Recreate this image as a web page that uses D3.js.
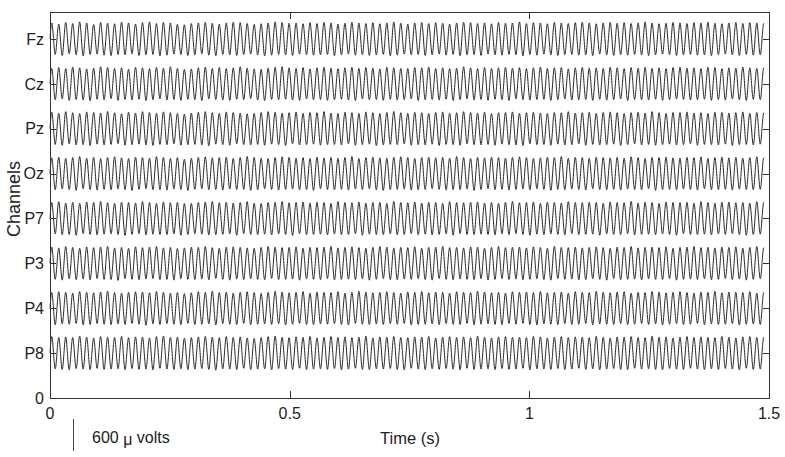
<!DOCTYPE html>
<html>
<head>
<meta charset="utf-8">
<script src="https://cdn.jsdelivr.net/npm/d3@7/dist/d3.min.js"></script>
<style>
  html, body { margin: 0; padding: 0; background: #fff; }
  svg { display: block; }
  text { font-family: "Liberation Sans", Arial, sans-serif; fill: #222; }
</style>
</head>
<body>
<svg id="chart" width="785" height="457"></svg>
<script>
// ---------- data (microvolts) ----------
const channelNames = ["Fz", "Cz", "Pz", "Oz", "P7", "P3", "P4", "P8"];
const yTickLabels = ["0", "P8", "P4", "P3", "P7", "Oz", "Pz", "Cz", "Fz"];
const xTickValues = [0, 0.5, 1, 1.5];
const xTickLabels = ["0", "0.5", "1", "1.5"];
const durationSec = 1.5;
const channelSpacingUV = 842;   // offset between stacked channels, in µV
const scaleBarUV = 600;

const fzPeaks = [300,280,310,290,320,300,270,310,295,285,315,300,280,
305,320,290,310,300,275,265,290,300,310,295,280,300,
315,305,290,270,285,300,320,310,295,300,285,305,290,
310,300,280,295,315,300,290,305,285,300,320,295,280,
300,310,290,305,295,280,300,315,305,290,300,285,310,
295,300,320,290,305,300,285,310,300,290,305,315,300,
285,300,310,295,305,290,300,320,300,285,295,310,300,
290,305,300,315,295,285,300,310,290,305,300,295,310];
const fzTroughs = [-290,-310,-280,-300,-320,-295,-285,-305,-315,-290,-300,-280,-310,
-300,-290,-320,-305,-285,-295,-310,-300,-280,-305,-315,-290,-300,
-310,-295,-285,-300,-320,-305,-290,-300,-310,-285,-295,-305,-300,
-290,-315,-300,-285,-305,-295,-310,-300,-290,-320,-305,-285,-300,
-295,-310,-300,-285,-305,-290,-315,-300,-295,-310,-285,-300,-305,
-290,-300,-320,-295,-305,-285,-300,-310,-295,-290,-305,-300,-315,
-285,-300,-310,-295,-305,-290,-300,-315,-300,-285,-295,-310,-300,
-290,-305,-300,-315,-295,-285,-300,-310,-290,-305,-300];

const czPeaks = [290,305,285,315,300,280,295,320,305,290,300,275,310,
300,285,310,295,320,290,270,280,300,315,290,305,285,
300,320,295,280,275,295,310,320,300,290,305,280,300,
315,295,285,300,310,290,305,295,280,310,300,290,285,
305,300,315,290,300,285,295,320,300,285,305,290,300,
310,295,305,285,300,315,290,300,305,280,300,310,295,
300,290,315,300,285,305,295,310,290,300,285,305,315,
295,300,290,310,305,285,300,295,315,300,290,305,300];
const czTroughs = [-300,-285,-310,-295,-305,-320,-290,-300,-280,-310,-295,-305,-290,
-315,-300,-285,-305,-295,-310,-290,-300,-315,-285,-295,-305,-310,
-290,-300,-280,-305,-315,-295,-300,-290,-305,-310,-285,-300,-295,
-310,-300,-290,-305,-315,-285,-300,-295,-310,-290,-305,-300,-285,
-315,-300,-295,-305,-290,-310,-300,-285,-305,-295,-310,-290,-300,
-315,-285,-300,-305,-295,-290,-310,-300,-285,-305,-300,-295,-310,
-290,-305,-300,-285,-315,-295,-300,-305,-290,-310,-300,-285,-295,
-305,-300,-290,-310,-295,-305,-285,-300,-315,-290,-300];

const pzPeaks = [310,290,320,300,285,315,305,295,325,300,280,310,295,
320,305,290,315,300,285,275,295,310,320,300,290,315,
305,295,280,290,305,320,310,295,300,315,290,305,300,
320,295,285,310,300,290,315,300,285,305,325,300,290,
310,300,285,305,315,290,300,320,305,295,310,285,300,
305,315,290,300,310,295,285,305,300,320,295,300,310,
290,305,315,300,285,300,310,295,320,300,290,305,300,
315,295,300,285,310,305,295,300,315,290,305,300,310];
const pzTroughs = [-295,-310,-285,-305,-300,-315,-290,-305,-295,-280,-310,-300,-290,
-305,-315,-295,-300,-285,-310,-300,-295,-305,-320,-290,-300,-310,
-285,-300,-305,-295,-310,-290,-300,-315,-285,-305,-300,-290,-310,
-300,-295,-305,-285,-310,-300,-290,-315,-305,-295,-300,-285,-310,
-300,-305,-290,-315,-295,-300,-310,-285,-300,-305,-295,-310,-290,
-300,-305,-315,-285,-300,-295,-310,-290,-305,-300,-285,-310,-295,
-305,-300,-290,-315,-300,-285,-305,-295,-310,-300,-290,-305,-300,
-285,-310,-295,-300,-305,-290,-315,-300,-295,-305,-290];

const ozPeaks = [295,310,285,300,320,290,305,280,300,315,295,285,310,
300,290,320,305,285,300,270,290,305,315,295,300,310,
285,300,320,305,290,280,300,315,305,290,300,285,310,
295,305,290,300,320,285,300,310,295,290,305,315,300,
285,300,310,295,305,290,320,300,285,305,295,310,300,
290,305,315,300,285,295,310,300,320,290,305,300,285,
310,300,295,305,290,315,300,285,305,300,310,295,290,
305,300,315,285,300,310,295,305,290,300,315,300,295];
const ozTroughs = [-305,-290,-300,-315,-285,-300,-310,-295,-305,-290,-300,-320,-295,
-285,-305,-300,-310,-290,-300,-315,-295,-285,-305,-300,-310,-290,
-300,-295,-315,-305,-285,-300,-310,-295,-290,-305,-300,-315,-285,
-300,-305,-295,-310,-290,-300,-285,-305,-315,-300,-295,-290,-310,
-305,-300,-285,-295,-310,-300,-305,-290,-315,-300,-285,-305,-295,
-310,-300,-290,-305,-285,-300,-315,-295,-305,-290,-300,-310,-285,
-300,-305,-295,-310,-290,-300,-305,-285,-315,-300,-295,-305,-290,
-300,-310,-285,-305,-300,-295,-310,-290,-300,-305,-295];

const p7Peaks = [300,315,290,305,285,310,300,320,295,285,305,300,290,
315,300,285,310,295,300,280,285,300,310,320,295,305,
290,300,315,285,280,300,305,320,295,300,310,290,305,
300,285,315,300,295,310,290,300,305,285,320,300,295,
310,290,305,300,285,315,300,295,305,310,290,300,285,
305,320,295,300,310,285,305,300,290,315,300,295,305,
300,285,310,300,295,320,290,305,300,285,310,300,295,
305,290,315,300,285,305,310,295,300,290,315,305,300];
const p7Troughs = [-290,-305,-300,-315,-285,-300,-310,-295,-290,-305,-320,-300,-285,
-310,-295,-300,-305,-290,-315,-300,-285,-295,-310,-305,-300,-290,
-315,-285,-300,-305,-295,-310,-290,-300,-320,-285,-305,-300,-295,
-310,-290,-305,-300,-285,-315,-295,-300,-305,-290,-310,-300,-285,
-305,-295,-310,-300,-290,-315,-285,-300,-305,-295,-300,-310,-290,
-305,-285,-300,-315,-295,-305,-290,-300,-310,-285,-305,-300,-295,
-315,-290,-300,-305,-285,-310,-300,-295,-305,-290,-300,-315,-285,
-300,-305,-295,-310,-290,-300,-285,-305,-315,-300,-295];

const p3Peaks = [305,290,315,300,285,310,295,305,320,290,300,285,310,
295,305,315,290,300,280,290,305,300,315,295,285,305,
310,300,290,285,300,315,305,295,300,310,285,300,295,
305,320,290,300,310,295,285,300,315,305,290,300,295,
310,285,300,305,320,295,300,290,310,305,285,300,315,
295,300,305,290,310,300,285,320,300,295,305,290,300,
310,295,285,305,300,315,290,300,305,295,310,285,300,
305,315,295,300,290,305,300,310,285,300,315,295,305];
const p3Troughs = [-300,-315,-290,-305,-295,-310,-285,-300,-305,-320,-290,-300,-310,
-295,-285,-305,-300,-315,-290,-300,-305,-295,-310,-285,-300,-315,
-295,-305,-290,-300,-310,-285,-305,-300,-295,-315,-290,-300,-305,
-285,-310,-300,-295,-305,-290,-315,-300,-285,-305,-310,-295,-300,
-290,-305,-315,-285,-300,-310,-295,-300,-305,-290,-315,-300,-285,
-305,-295,-310,-300,-290,-305,-315,-285,-300,-295,-310,-305,-290,
-300,-315,-285,-305,-300,-295,-310,-290,-300,-305,-285,-315,-300,
-295,-305,-290,-310,-300,-285,-305,-295,-315,-300,-290];

const p4Peaks = [295,310,300,285,315,300,290,305,320,295,285,300,310,
305,290,315,300,285,295,275,290,310,300,320,295,305,
285,300,310,295,280,300,320,305,290,300,315,285,305,
300,295,310,285,300,320,305,290,300,310,295,285,305,
300,315,290,305,300,285,310,300,295,320,305,290,300,
285,310,300,305,295,315,290,300,305,285,310,300,295,
320,300,290,305,310,285,300,295,315,305,290,300,310,
295,285,305,300,315,290,305,300,295,310,285,300,305];
const p4Troughs = [-310,-295,-300,-285,-315,-305,-290,-300,-310,-295,-305,-285,-300,
-320,-295,-305,-290,-300,-310,-285,-305,-300,-295,-315,-290,-300,
-305,-285,-310,-300,-295,-305,-290,-315,-300,-285,-305,-310,-295,
-300,-290,-305,-315,-285,-300,-310,-295,-305,-290,-300,-285,-315,
-305,-300,-295,-310,-290,-300,-305,-285,-315,-300,-295,-305,-310,
-290,-300,-285,-305,-315,-295,-300,-310,-290,-305,-300,-285,-315,
-295,-300,-305,-290,-310,-300,-285,-305,-295,-315,-300,-290,-305,
-300,-285,-310,-295,-305,-300,-290,-315,-300,-295,-305];

const p8Peaks = [310,295,305,290,320,300,285,310,300,295,315,290,305,
300,285,310,320,295,300,280,290,305,315,300,290,310,
295,305,285,275,295,310,320,300,290,305,300,315,285,
300,310,295,305,290,300,320,285,305,300,310,295,290,
305,300,315,285,300,310,295,305,290,320,300,285,305,
310,295,300,290,315,305,285,300,310,295,305,300,290,
315,300,285,305,300,310,295,290,320,300,305,285,300,
310,295,305,300,290,315,300,285,305,310,295,300,305];
const p8Troughs = [-295,-305,-315,-290,-300,-310,-285,-305,-300,-295,-310,-290,-305,
-300,-315,-285,-300,-305,-295,-310,-300,-290,-305,-320,-295,-300,
-310,-285,-305,-300,-295,-315,-290,-300,-305,-285,-310,-300,-295,
-305,-290,-315,-300,-285,-305,-310,-295,-300,-290,-305,-315,-285,
-300,-310,-295,-305,-290,-300,-315,-285,-305,-300,-295,-310,-290,
-305,-300,-285,-315,-295,-300,-305,-290,-310,-300,-285,-305,-295,
-315,-300,-290,-305,-310,-285,-300,-295,-305,-315,-290,-300,-305,
-285,-300,-310,-295,-305,-290,-300,-315,-285,-305,-300];

const channelPeaks = [fzPeaks, czPeaks, pzPeaks, ozPeaks, p7Peaks, p3Peaks, p4Peaks, p8Peaks];
const channelTroughs = [fzTroughs, czTroughs, pzTroughs, ozTroughs, p7Troughs, p3Troughs, p4Troughs, p8Troughs];

// ---------- layout ----------
const svg = d3.select("#chart");
const plot = { left: 50, top: 12, right: 769, bottom: 398 };

const x = d3.scaleLinear().domain([0, durationSec]).range([plot.left, plot.right]);
const y = d3.scaleLinear().domain([0, 8.6]).range([plot.bottom, plot.top]);

// build each trace: start at baseline, alternate peak / trough, end at baseline
function traceSamples(peaks, troughs) {
  const ext = [];
  const n = peaks.length + troughs.length;
  for (let i = 0; i < n; i++) {
    ext.push(i % 2 === 0 ? peaks[i >> 1] : troughs[i >> 1]);
  }
  const half = durationSec / n;
  const pts = [[0, 0]];
  ext.forEach((v, i) => pts.push([(i + 0.5) * half, v]));
  pts.push([durationSec, 0]);
  return pts;
}

const line = d3.line().curve(d3.curveMonotoneX);

channelNames.forEach((name, ci) => {
  const level = channelNames.length - ci;     // Fz at top (8) ... P8 at 1
  const pts = traceSamples(channelPeaks[ci], channelTroughs[ci]);
  line.x(d => x(d[0])).y(d => y(level + d[1] / channelSpacingUV));
  svg.append("path")
    .attr("d", line(pts))
    .attr("fill", "none")
    .attr("stroke", "#2a2a2a")
    .attr("stroke-width", 1)
    .attr("stroke-linejoin", "round");
});

// ---------- box + axes ----------
const axisColor = "#333";
svg.append("rect")
  .attr("x", plot.left + 0.5).attr("y", plot.top + 0.5)
  .attr("width", plot.right - plot.left).attr("height", plot.bottom - plot.top)
  .attr("fill", "none").attr("stroke", axisColor).attr("stroke-width", 1);

const yLevels = d3.range(yTickLabels.length);
// left ticks (inward) and right ticks (inward)
yLevels.forEach(v => {
  const yy = Math.round(y(v)) + 0.5;
  svg.append("line").attr("x1", plot.left).attr("x2", plot.left + 6)
    .attr("y1", yy).attr("y2", yy).attr("stroke", axisColor);
  svg.append("line").attr("x1", plot.right - 6).attr("x2", plot.right)
    .attr("y1", yy).attr("y2", yy).attr("stroke", axisColor);
});
svg.append("g").selectAll("text").data(yLevels).join("text")
  .attr("x", 44).attr("y", d => y(d))
  .attr("dy", "0.36em")
  .attr("text-anchor", "end")
  .attr("font-size", 16)
  .text(d => yTickLabels[d]);

xTickValues.forEach(v => {
  const xx = Math.round(x(v)) + 0.5;
  svg.append("line").attr("x1", xx).attr("x2", xx)
    .attr("y1", plot.bottom).attr("y2", plot.bottom - 7).attr("stroke", axisColor);
  svg.append("line").attr("x1", xx).attr("x2", xx)
    .attr("y1", plot.top).attr("y2", plot.top + 7).attr("stroke", axisColor);
});
svg.append("g").selectAll("text").data(xTickValues).join("text")
  .attr("x", d => x(d)).attr("y", 419)
  .attr("text-anchor", "middle")
  .attr("font-size", 16)
  .text((d, i) => xTickLabels[i]);

// axis titles
svg.append("text")
  .attr("x", 410).attr("y", 444)
  .attr("text-anchor", "middle")
  .attr("font-size", 16.5)
  .text("Time (s)");

svg.append("text")
  .attr("transform", "translate(20,199) rotate(-90)")
  .attr("text-anchor", "middle")
  .attr("font-size", 18)
  .text("Channels");

// amplitude scale bar
const barLen = y(0) - y(scaleBarUV / channelSpacingUV);
svg.append("line")
  .attr("x1", 73.5).attr("x2", 73.5)
  .attr("y1", 419).attr("y2", 419 + barLen)
  .attr("stroke", "#444").attr("stroke-width", 1);
const sb = svg.append("text")
  .attr("x", 92).attr("y", 443)
  .attr("font-size", 16);
sb.append("tspan").text("600 ");
sb.append("tspan").attr("dy", 2).text("\u03bc");
sb.append("tspan").attr("dy", -2).text(" volts");
</script>
</body>
</html>
